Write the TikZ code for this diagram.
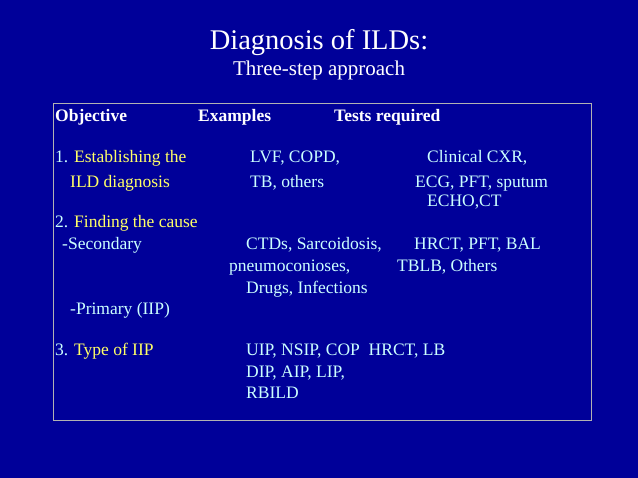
\documentclass[tikz,border=0pt]{standalone}
\usepackage{fontspec}
\setmainfont{Liberation Serif}
\definecolor{slidebg}{HTML}{000099}
\definecolor{cyantext}{HTML}{CCFFFF}
\definecolor{yellowtext}{HTML}{FFFF66}
\begin{document}
\begin{tikzpicture}[x=1pt,y=-1pt]
  \tikzstyle{txt}=[anchor=base west, inner sep=0pt, text=cyantext, font=\fontsize{17.5}{20}\selectfont]
  \tikzstyle{hi}=[text=yellowtext]
  \tikzstyle{head}=[txt, text=white, font=\fontsize{17.5}{20}\selectfont\bfseries]

  % Hintergrund
  \fill[slidebg] (0,0) rectangle (638,478);
  \useasboundingbox (0,0) rectangle (638,478);

  % Titel
  \node[anchor=base, text=white, font=\fontsize{28.5}{32}\selectfont] (title) at (319,50) {Diagnosis of ILDs:};
  \node[anchor=base, text=white, font=\fontsize{21}{24}\selectfont] (subtitle) at (319,76) {Three-step approach};

  % Rahmen
  \draw[gray!60, line width=0.8pt] (53,103) rectangle (591,420);

  % Kopfzeile
  \node[head] (obj) at (55,122) {Objective};
  \node[head] (ex) at (198,122) {Examples};
  \node[head] (tst) at (334,122) {Tests required};

  % Schritt 1
  \node[txt] (s1) at (55,163) {1. \textcolor{yellowtext}{Establishing the}};
  \node[txt, hi] (s1b) at (70,188) {ILD diagnosis};
  \node[txt] (e1) at (250,163) {LVF, COPD,};
  \node[txt] (e1b) at (250,188) {TB, others};
  \node[txt] (t1) at (427,163) {Clinical CXR,};
  \node[txt] (t1b) at (415,188) {ECG, PFT, sputum};
  \node[txt] (t1c) at (427,207) {ECHO,CT};

  % Schritt 2
  \node[txt] (s2) at (55,228) {2. \textcolor{yellowtext}{Finding the cause}};
  \node[txt] (s2b) at (62,250) {-Secondary};
  \node[txt] (e2) at (246,250) {CTDs, Sarcoidosis,};
  \node[txt] (e2b) at (229,272) {pneumoconioses,};
  \node[txt] (e2c) at (246,294) {Drugs, Infections};
  \node[txt] (t2) at (414,250) {HRCT, PFT, BAL};
  \node[txt] (t2b) at (397,272) {TBLB, Others};
  \node[txt] (s2c) at (70,315) {-Primary (IIP)};

  % Schritt 3
  \node[txt] (s3) at (55,356) {3. \textcolor{yellowtext}{Type of IIP}};
  \node[txt] (e3) at (246,356) {UIP, NSIP, COP\ \ HRCT, LB};
  \node[txt] (e3b) at (246,378) {DIP, AIP, LIP,};
  \node[txt] (e3c) at (246,399) {RBILD};
\end{tikzpicture}
\end{document}
